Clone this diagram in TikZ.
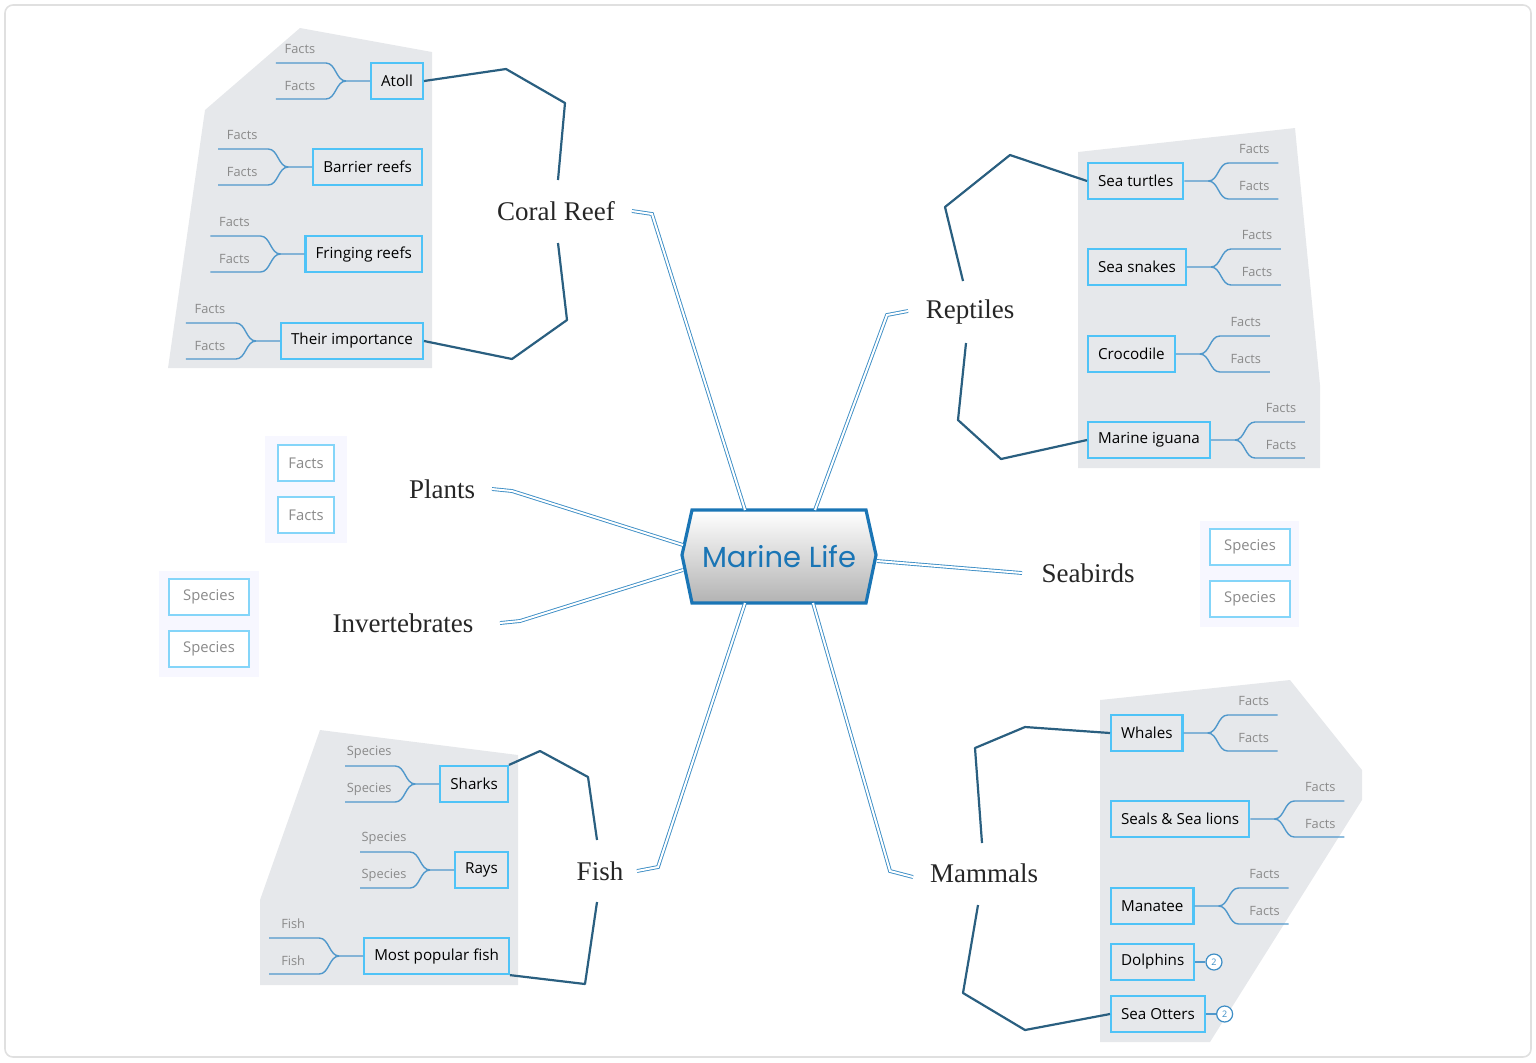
\documentclass[tikz,border=0pt]{standalone}
\usepackage{fontspec}
\setmainfont{Open Sans}
\newfontfamily\titlefont{Liberation Serif}
\newfontfamily\centerfont{Poppins}
\usetikzlibrary{calc}
\definecolor{boxc}{HTML}{4FC3F7}
\definecolor{dark}{HTML}{2A5F80}
\definecolor{dbl}{HTML}{3C8DC5}
\definecolor{grayfill}{HTML}{E6E8EB}
\definecolor{factc}{HTML}{8A8A8A}
\definecolor{ctr}{HTML}{1A75B5}
\tikzset{
 sub/.style={draw=boxc,line width=1.1pt,fill=grayfill,minimum height=18pt,inner xsep=5pt,font=\fontsize{7.6}{9}\selectfont,text=black},
 lite/.style={draw=boxc!70,line width=1.1pt,fill=white,minimum height=18pt,minimum width=40pt,font=\fontsize{7.4}{9}\selectfont,text=factc},
 fl/.style={draw=dbl!90,line width=0.7pt},
 fact/.style={font=\fontsize{6.4}{8}\selectfont,text=factc},
 title/.style={font=\titlefont\fontsize{13.5}{15}\selectfont,text=black!85},
 dk/.style={draw=dark,line width=1.1pt,line join=round},
 dl/.style={draw=dbl,double=white,double distance=1pt,line width=0.45pt},
 gp/.style={fill=grayfill},
 num/.style={circle,draw=dbl,line width=0.6pt,fill=white,inner sep=0pt,minimum size=8pt,font=\fontsize{4.5}{5}\selectfont,text=dbl}
}
\newcommand\factL[2]{%
 \draw[fl] (#1.west) -- ++(-24,0) .. controls +(-10,0) and +(10,0) .. ++(-20,-18) -- ++(-50,0);
 \draw[fl] (#1.west) ++(-24,0) .. controls +(-10,0) and +(10,0) .. ++(-20,18) -- ++(-50,0);
 \node[fact] at ($(#1.west)+(-70,-32)$) {#2};
 \node[fact] at ($(#1.west)+(-70,5)$) {#2};}
\newcommand\factR[2]{%
 \draw[fl] (#1.east) -- ++(24,0) .. controls +(10,0) and +(-10,0) .. ++(20,-18) -- ++(50,0);
 \draw[fl] (#1.east) ++(24,0) .. controls +(10,0) and +(-10,0) .. ++(20,18) -- ++(50,0);
 \node[fact] at ($(#1.east)+(70,-32)$) {#2};
 \node[fact] at ($(#1.east)+(70,5)$) {#2};}
\begin{document}
\begin{tikzpicture}[x=0.5pt,y=-0.5pt]
\useasboundingbox (0,0) rectangle (1536,1062);
\draw[black!12,line width=0.8pt,rounded corners=4pt] (5,5) rectangle (1531,1057);
% gray panels
\fill[gp] (168,368) -- (205,110) -- (300,28) -- (432,52) -- (432,368) -- cycle;
\fill[gp] (1078,152) -- (1295,128) -- (1320,385) -- (1320,468) -- (1078,468) -- cycle;
\fill[gp] (1100,700) -- (1290,680) -- (1362,770) -- (1362,800) -- (1210,1042) -- (1100,1042) -- cycle;
\fill[gp] (260,985) -- (260,900) -- (320,730) -- (518,755) -- (518,985) -- cycle;
\fill[blue!3] (265,436) rectangle (347,543);
\fill[blue!3] (1200,521) rectangle (1299,627);
\fill[blue!3] (159,571) rectangle (259,677);
% center
\shade[top color=white,bottom color=black!30,draw=ctr,line width=1.6pt] (692,510) -- (866,510) -- (876,555) -- (866,603) -- (692,603) -- (682,555) -- cycle;
\node[font=\centerfont\fontsize{14.5}{16}\selectfont,text=ctr] (ml) at (779,557) {Marine Life};
% titles
\node[title] (coral) at (556,211) {Coral Reef};
\node[title] (rept) at (970,312) {Reptiles};
\node[title] (birds) at (1088,573) {Seabirds};
\node[title] (mam) at (984,873) {Mammals};
\node[title] (fish) at (600,871) {Fish};
\node[title] (plants) at (442,489) {Plants};
\node[title] (inv) at (403,623) {Invertebrates};
% double lines
\draw[dl] (632,211) -- (652,214) -- (745,510);
\draw[dl] (908,311) -- (887,315) -- (815,510);
\draw[dl] (877,561) -- (1022,573);
\draw[dl] (913,877) -- (890,871) -- (813,603);
\draw[dl] (637,871) -- (658,867) -- (745,603);
\draw[dl] (492,489) -- (512,491) -- (683,545);
\draw[dl] (500,623) -- (520,621) -- (683,570);
% coral reef
\node[sub,anchor=east] (atoll) at (424,81) {Atoll};
\node[sub,anchor=east] (barrier) at (423,167) {Barrier reefs};
\node[sub,anchor=east] (fring) at (423,254) {Fringing reefs};
\node[sub,anchor=east] (imp) at (424,341) {Their importance};
\factL{atoll}{Facts}\factL{barrier}{Facts}\factL{fring}{Facts}\factL{imp}{Facts}
\draw[dk] (atoll.east) -- (506,69) -- (565,103) -- (558,180);
\draw[dk] (558,243) -- (567,320) -- (512,359) -- (imp.east);
% reptiles
\node[sub,anchor=west] (turt) at (1087,181) {Sea turtles};
\node[sub,anchor=west] (snake) at (1087,267) {Sea snakes};
\node[sub,anchor=west] (croc) at (1087,354) {Crocodile};
\node[sub,anchor=west] (igu) at (1087,440) {Marine iguana};
\factR{turt}{Facts}\factR{snake}{Facts}\factR{croc}{Facts}\factR{igu}{Facts}
\draw[dk] (963,281) -- (945,207) -- (1010,155) -- (turt.west);
\draw[dk] (966,343) -- (958,420) -- (1001,459) -- (igu.west);
% seabirds
\node[lite] (sp1) at (1250,547) {Species};
\node[lite] (sp2) at (1250,599) {Species};
% mammals
\node[sub,anchor=west] (whale) at (1110,733) {Whales};
\node[sub,anchor=west] (seal) at (1110,819) {Seals \& Sea lions};
\node[sub,anchor=west] (mana) at (1110,906) {Manatee};
\node[sub,anchor=west] (dolph) at (1110,962) {Dolphins};
\node[sub,anchor=west] (otter) at (1110,1014) {Sea Otters};
\factR{whale}{Facts}\factR{seal}{Facts}\factR{mana}{Facts}
\node[num,anchor=west] (n1) at ($(dolph.east)+(10,0)$) {2};
\node[num,anchor=west] (n2) at ($(otter.east)+(10,0)$) {2};
\draw[fl] (dolph.east) -- (n1.west);
\draw[fl] (otter.east) -- (n2.west);
\draw[dk] (982,843) -- (975,748) -- (1025,727) -- (whale.west);
\draw[dk] (978,905) -- (963,993) -- (1025,1030) -- (otter.west);
% fish
\node[sub,anchor=east] (shark) at (509,784) {Sharks};
\node[sub,anchor=east] (rays) at (509,870) {Rays};
\node[sub,anchor=east] (pop) at (510,956) {Most popular fish};
\factL{shark}{Species}\factL{rays}{Species}\factL{pop}{Fish}
\draw[dk] (597,840) -- (588,777) -- (540,751) -- (shark.north east);
\draw[dk] (597,902) -- (585,984) -- (pop.south east);
% plants
\node[lite,minimum width=28pt] (pf1) at (306,463) {Facts};
\node[lite,minimum width=28pt] (pf2) at (306,515) {Facts};
% invertebrates
\node[lite] (is1) at (209,597) {Species};
\node[lite] (is2) at (209,649) {Species};
\end{tikzpicture}
\end{document}
